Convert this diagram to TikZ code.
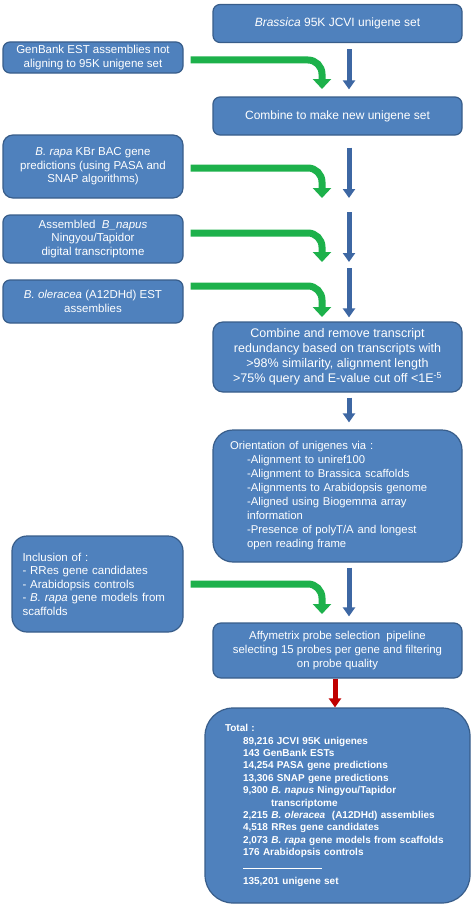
\documentclass[tikz,border=0pt]{standalone}
\usepackage{fontspec}
\setmainfont{Liberation Sans}
\usetikzlibrary{positioning, arrows.meta}
\definecolor{boxfill}{HTML}{4F81BD}
\definecolor{boxline}{HTML}{385D8A}
\definecolor{flowblue}{HTML}{3D67A3}
\definecolor{addgreen}{HTML}{1DB14B}
\definecolor{finalred}{HTML}{C00000}
\tikzset{
    x=1pt, y=-1pt,          % picture pixels, y going down
    every node/.style={
        align=center,
        text=white,
        inner sep=2pt,
    },
    stepbox/.style={        % default style for all boxes
        draw=boxline,
        fill=boxfill,
        line width=1.2pt,
        rounded corners=7pt,
    },
    mainbox/.style={        % right column
        stepbox,
        minimum width=249pt,
        font=\fontsize{12}{15}\selectfont,
    },
    sidebox/.style={        % left column inputs
        stepbox,
        minimum width=180pt,
        font=\fontsize{11.5}{13.5}\selectfont,
    },
    flow/.style={           % blue arrows down the main column
        draw=flowblue,
        line width=5pt,
        -{Triangle[width=12pt, length=9pt]}
    },
    addin/.style={          % green arrows from the inputs
        draw=addgreen,
        line width=7pt,
        rounded corners=14pt,
        -{Triangle[width=18pt, length=10pt]}
    },
    final/.style={          % red arrow to the total
        draw=finalred,
        line width=5pt,
        -{Triangle[width=12pt, length=9pt]}
    }
}
\begin{document}
\begin{tikzpicture}
    \useasboundingbox (0,0) rectangle (474,907);
    % main column
    \node[mainbox, minimum height=38pt] (brassica) at (337.5,23.5) {\textit{Brassica} 95K JCVI unigene set};
    \node[mainbox, minimum height=38pt] (combine) at (337.5,116) {Combine to make new unigene set};
    \node[mainbox, minimum height=70pt, rounded corners=10pt, font=\fontsize{12.5}{15}\selectfont] (merge) at (337.5,357)
        {Combine and remove transcript\\redundancy based on transcripts with\\>98\% similarity, alignment length\\>75\% query and E-value cut off <1E\textsuperscript{-5}};
    \node[mainbox, minimum height=132pt, rounded corners=20pt, align=left, text width=215pt, font=\fontsize{11.3}{14}\selectfont] (orient) at (337.5,496)
        {Orientation of unigenes via :\\
         \hspace*{17pt}-Alignment to uniref100\\
         \hspace*{17pt}-Alignment to Brassica scaffolds\\
         \hspace*{17pt}-Alignments to Arabidopsis genome\\
         \hspace*{17pt}-Aligned using Biogemma array\\
         \hspace*{17pt}information\\
         \hspace*{17pt}-Presence of polyT/A and longest\\
         \hspace*{17pt}open reading frame};
    \node[mainbox, minimum height=55pt, rounded corners=8pt, font=\fontsize{11.4}{14}\selectfont] (affy) at (337.5,650.5)
        {Affymetrix probe selection\ \ pipeline\\selecting 15 probes per gene and filtering\\on probe quality};
    \node[stepbox, minimum width=265pt, minimum height=195pt, rounded corners=28pt, align=left, text width=225pt,
          font=\fontsize{10}{12.4}\selectfont\bfseries] (total) at (337.5,805.5)
        {Total :\\
         \hspace*{18pt}89,216 JCVI 95K unigenes\\
         \hspace*{18pt}143 GenBank ESTs\\
         \hspace*{18pt}14,254 PASA gene predictions\\
         \hspace*{18pt}13,306 SNAP gene predictions\\
         \hspace*{18pt}9,300 \textit{B. napus} Ningyou/Tapidor\\
         \hspace*{46pt}transcriptome\\
         \hspace*{18pt}2,215 \textit{B. oleracea}\ \ (A12DHd) assemblies\\
         \hspace*{18pt}4,518 RRes gene candidates\\
         \hspace*{18pt}2,073 \textit{B. rapa} gene models from scaffolds\\
         \hspace*{18pt}176 Arabidopsis controls\\[4pt]
         \hspace*{18pt}\rule[3pt]{79pt}{1pt}\\
         \hspace*{18pt}135,201 unigene set};
    % inputs on the left
    \node[sidebox, minimum height=31pt] (genbank) at (93,57.5) {GenBank EST assemblies not\\aligning to 95K unigene set};
    \node[sidebox, minimum height=63pt, rounded corners=10pt] (brapa) at (93,166.5) {\textit{B. rapa} KBr BAC gene\\predictions (using PASA and\\SNAP algorithms)};
    \node[sidebox, minimum height=48pt] (bnapus) at (93,239) {Assembled\ \ \textit{B\_napus}\\Ningyou/Tapidor\\digital transcriptome};
    \node[sidebox, minimum height=43pt] (olerac) at (93,301.5) {\textit{B. oleracea} (A12DHd) EST\\assemblies};
    \node[sidebox, minimum width=171pt, minimum height=96pt, rounded corners=15pt, align=left, text width=150pt] (inclusion) at (97.5,584)
        {Inclusion of :\\- RRes gene candidates\\- Arabidopsis controls\\- \textit{B. rapa} gene models from\\scaffolds\\[4pt]};
    % joins on the main column
    \coordinate (m1) at (349,205);
    \coordinate (m2) at (349,265);
    \coordinate (g1) at (322,89);
    \coordinate (g2) at (322,198);
    \coordinate (g3) at (322,262);
    \coordinate (g4) at (322,317);
    \coordinate (g5) at (322,614);
    % blue arrows
    \draw[flow] ([xshift=11.5pt, yshift=-6pt]brassica.south) -- ([xshift=11.5pt, yshift=7pt]combine.north);
    \draw[flow] ([xshift=11.5pt, yshift=-12pt]combine.south) -- ([yshift=7pt]m1);
    \draw[flow] ([yshift=-7pt]m1) -- ([yshift=3pt]m2);
    \draw[flow] ([yshift=-3pt]m2) -- ([xshift=11.5pt, yshift=4pt]merge.north);
    \draw[flow] ([xshift=11.5pt, yshift=-5pt]merge.south) -- ([xshift=11.5pt, yshift=7pt]orient.north);
    \draw[flow] ([xshift=11.5pt, yshift=-5pt]orient.south) -- ([xshift=11.5pt, yshift=6pt]affy.north);
    \draw[final] ([xshift=-2.5pt]affy.south) -- ([xshift=-2.5pt]total.north);
    % green arrows
    \draw[addin] ([xshift=7pt, yshift=-2.5pt]genbank.east) -| (g1);
    \draw[addin] ([xshift=7pt, yshift=-1.5pt]brapa.east) -| (g2);
    \draw[addin] ([xshift=7pt, yshift=6pt]bnapus.east) -| (g3);
    \draw[addin] ([xshift=7pt, yshift=15.5pt]olerac.east) -| (g4);
    \draw[addin] ([xshift=7pt]inclusion.east) -| (g5);
\end{tikzpicture}
\end{document}
